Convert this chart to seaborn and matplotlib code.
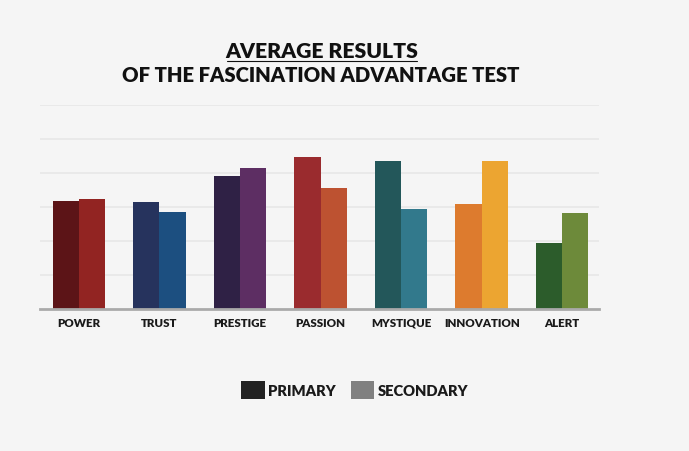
import pandas as pd
import numpy as np
from matplotlib import pyplot as plt
from matplotlib.patches import Patch
import seaborn as sns

traits = ["POWER", "TRUST", "PRESTIGE", "PASSION", "MYSTIQUE", "INNOVATION", "ALERT"]
primary = [3.17, 3.16, 3.90, 4.47, 4.34, 3.08, 1.93]
secondary = [3.24, 2.84, 4.16, 3.57, 2.93, 4.35, 2.83]

primary_colors = ["#5c1417", "#26335d", "#2f2145", "#9a2b2e", "#23575a", "#dd7b2e", "#2c5c2b"]
secondary_colors = ["#922422", "#1c4f80", "#5d2e63", "#bd5231", "#32798c", "#eca531", "#6d8a3a"]

bg = "#f5f5f5"

df = pd.DataFrame({
    "trait": traits * 2,
    "score": primary + secondary,
    "series": ["Primary"] * len(traits) + ["Secondary"] * len(traits),
})

sns.set_style("white")
plt.rcParams["font.family"] = ["Lato", "DejaVu Sans"]

fig = plt.figure(figsize=(6.89, 4.52), dpi=100)
fig.patch.set_facecolor(bg)
ax = fig.add_axes([40 / 689, 142 / 452, 559 / 689, 204 / 452])
ax.set_facecolor(bg)

sns.barplot(data=df, x="trait", y="score", hue="series", width=0.65,
            dodge=True, ax=ax, legend=False, saturation=1)

for cont, cols in zip(ax.containers, [primary_colors, secondary_colors]):
    for bar, c in zip(cont, cols):
        bar.set_facecolor(c)
        bar.set_edgecolor("none")

ax.set_xlim(-0.483, 6.457)
ax.set_ylim(0, 6)
ax.set_yticks(range(1, 7))
ax.yaxis.grid(True, color="#e8e8e8", lw=1.3)
ax.set_axisbelow(True)
ax.tick_params(axis="y", left=False, labelleft=False)
ax.tick_params(axis="x", bottom=False, pad=2)
for lab in ax.get_xticklabels():
    lab.set_fontweight("heavy")
    lab.set_fontsize(8.3)
    lab.set_color("#1a1a1a")
ax.set_xlabel("")
ax.set_ylabel("")
for s in ["top", "left", "right"]:
    ax.spines[s].set_visible(False)
ax.spines["bottom"].set_color("#aaaaaa")
ax.spines["bottom"].set_linewidth(2)

fig.text(322 / 689, 1 - 52 / 452, "AVERAGE RESULTS", ha="center", va="center",
         fontsize=15.2, fontweight="heavy", color="#111111")
fig.lines.append(plt.Line2D([227 / 689, 417 / 689], [1 - 61.5 / 452, 1 - 61.5 / 452],
                            transform=fig.transFigure, color="#111111", lw=0.8))
fig.text(321 / 689, 1 - 75 / 452, "OF THE FASCINATION ADVANTAGE TEST", ha="center", va="center",
         fontsize=14.6, fontweight="heavy", color="#111111")

handles = [Patch(facecolor="#222222", edgecolor="none", label="PRIMARY"),
           Patch(facecolor="#808080", edgecolor="none", label="SECONDARY")]
leg = fig.legend(handles=handles, loc="center", bbox_to_anchor=(355 / 689, 1 - 391 / 452),
                 ncol=2, frameon=False, handlelength=1.6, handleheight=1.6,
                 handletextpad=0.25, columnspacing=1.0,
                 prop={"weight": "heavy", "size": 10.6})
for t in leg.get_texts():
    t.set_color("#1a1a1a")

fig.savefig("out.png", dpi=100, facecolor=bg)
